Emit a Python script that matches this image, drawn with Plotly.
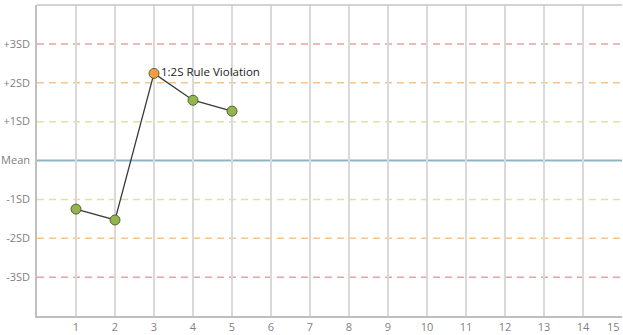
import plotly.graph_objects as go

runs = [1, 2, 3, 4, 5]
values = [-1.25, -1.53, 2.24, 1.55, 1.27]
violation = [False, False, True, False, False]
sd_levels = [3, 2, 1, 0, -1, -2, -3]
sd_labels = ["+3SD", "+2SD", "+1SD", "Mean", "-1SD", "-2SD", "-3SD"]
sd_colors = ["#e6a3a0", "#f7c391", "#dde3a2", "#8fb6c0", "#dde3a2", "#f7c391", "#e6a3a0"]
x_ticks = list(range(1, 16))
annotation_text = "1:2S Rule Violation"

marker_colors = ["#f59a45" if v else "#92b550" for v in violation]
FONT = "Open Sans, Liberation Sans, sans-serif"

fig = go.Figure()
fig.add_trace(go.Scatter(
    x=runs, y=values, mode="lines+markers",
    line=dict(color="#3a3a3a", width=1.3),
    marker=dict(size=10, color=marker_colors, line=dict(color="#55652e", width=1)),
    showlegend=False, hoverinfo="skip", cliponaxis=False,
))

shapes = []
for lvl, col in zip(sd_levels, sd_colors):
    shapes.append(dict(
        type="line", xref="paper", yref="y", x0=0, x1=1, y0=lvl, y1=lvl,
        line=dict(color=col, width=2 if lvl == 0 else 1.5, dash="solid" if lvl == 0 else "7px,5px"),
        layer="below",
    ))
shapes.append(dict(type="line", xref="paper", yref="paper", x0=0, x1=1, y0=1, y1=1,
                   line=dict(color="#c4c4c4", width=1.5)))
fig.update_layout(shapes=shapes)

vi = violation.index(True)
fig.add_annotation(
    x=runs[vi], y=values[vi], text=annotation_text, showarrow=False,
    xanchor="left", yanchor="middle", xshift=5, yshift=2,
    font=dict(family=FONT, size=11.5, color="#222222"),
)
# last x tick label, kept inside the canvas like the reference
fig.add_annotation(
    x=1, xref="paper", y=0, yref="paper", text=str(x_ticks[-1]), showarrow=False,
    xanchor="right", yanchor="top", yshift=-1, xshift=0,
    font=dict(family=FONT, size=11, color="#7f7f7f"),
)

fig.update_layout(
    width=623, height=335,
    margin=dict(l=34, r=1, t=5, b=17),
    paper_bgcolor="white", plot_bgcolor="white",
    font=dict(family=FONT, size=11, color="#7f7f7f"),
    xaxis=dict(
        range=[0, 15], tickmode="array", tickvals=x_ticks[:-1],
        ticktext=[str(t) for t in x_ticks[:-1]],
        showgrid=True, gridcolor="#d9d9d9", gridwidth=1.5, zeroline=False,
        showline=True, linecolor="#bfbfbf", linewidth=1.5,
        ticks="", tickfont=dict(size=11, color="#7f7f7f"),
    ),
    yaxis=dict(
        range=[-4, 4], tickmode="array", tickvals=sd_levels, ticktext=sd_labels,
        showgrid=False, zeroline=False,
        showline=True, linecolor="#bfbfbf", linewidth=1.5,
        ticks="", tickfont=dict(size=11, color="#7f7f7f"), ticklabelstandoff=3,
    ),
)

fig.write_html("out.html")
